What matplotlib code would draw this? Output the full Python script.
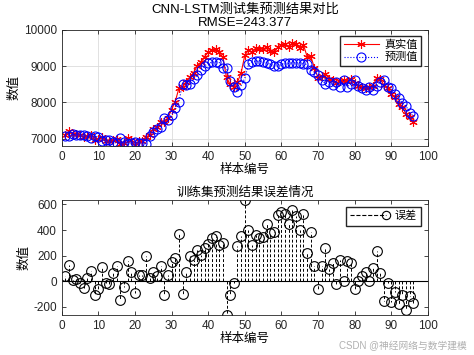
import matplotlib
matplotlib.use('Agg')
import matplotlib.pyplot as plt
from matplotlib.lines import Line2D
from matplotlib.legend_handler import HandlerBase
import numpy as np

plt.rcParams['font.family'] = ['Liberation Sans', 'Noto Sans CJK SC', 'DejaVu Sans']
plt.rcParams['axes.unicode_minus'] = False

# sample index 1..96
sample_idx = list(range(1, 97))

true_vals = [7105, 7204, 7130, 7128, 7097, 7045, 7086, 7114, 6972, 6980,
             7050, 6947, 6929, 6966, 6998, 6863, 6873, 7008, 6956, 6828,
             6930, 6932, 7057, 7089, 7256, 7315, 7451, 7452, 7572, 7800,
             8021, 8383, 8420, 8553, 8697, 8818, 8997, 9103, 9263, 9380,
             9442, 9480, 9380, 9250, 8688, 8495, 8417, 8559, 8818, 9300,
             9443, 9392, 9499, 9471, 9462, 9538, 9422, 9386, 9520, 9583,
             9617, 9518, 9644, 9603, 9494, 9586, 9264, 9273, 8950, 8682,
             8727, 8773, 8655, 8618, 8545, 8590, 8609, 8590, 8655, 8545,
             8455, 8427, 8409, 8427, 8455, 8682, 8636, 8473, 8409, 8227,
             8136, 7955, 7864, 7682, 7591, 7455]

pred_vals = [7060, 7080, 7120, 7110, 7110, 7100, 7060, 7030, 7080, 7040,
             6940, 6960, 6950, 6900, 6880, 7010, 6920, 6850, 6880, 6920,
             6880, 6880, 6860, 7060, 7180, 7270, 7330, 7560, 7520, 7650,
             7840, 8010, 8520, 8480, 8500, 8650, 8750, 8900, 9000, 9085,
             9100, 9125, 9099, 8950, 8950, 8600, 8430, 8287, 8466, 8664,
             9045, 9109, 9136, 9136, 9118, 9091, 9045, 9000, 9000, 9045,
             9091, 9073, 9091, 9091, 9091, 9064, 9045, 8885, 8834, 8743,
             8611, 8511, 8559, 8477, 8566, 8423, 8604, 8428, 8514, 8606,
             8452, 8383, 8339, 8422, 8353, 8442, 8572, 8630, 8425, 8392,
             8221, 8133, 7972, 7904, 7703, 7627]

err_vals = [45, 124, 10, 18, -13, -55, 26, 84, -108, -60,
            110, -13, -21, 66, 118, -147, -47, 158, 76, -92,
            50, 52, 197, 29, 76, 45, 121, -108, 52, 150,
            181, 373, -100, 73, 197, 168, 247, 203, 263, 295,
            342, 355, 281, 300, -262, -105, -13, 272, 352, 636,
            398, 283, 363, 335, 344, 447, 377, 386, 520, 538,
            526, 445, 553, 512, 403, 522, 219, 388, 116, -61,
            116, 262, 96, 141, -21, 167, 5, 162, 141, -61,
            3, 44, 70, 5, 102, 240, 64, -157, -16, -165,
            -85, -178, -108, -222, -112, -172]

rmse_text = 'RMSE=243.377'

ASTERISK = (6, 2, 0)


class StemLegend(HandlerBase):
    # dashed line with the circle at the right end, like MATLAB's stem legend
    def create_artists(self, legend, orig_handle, xdescent, ydescent,
                       width, height, fontsize, trans):
        y = height / 2 - ydescent
        ln = Line2D([-xdescent, -xdescent + width], [y, y], ls='--',
                    color='k', lw=0.8)
        mk = Line2D([-xdescent + width], [y], marker='o', ls='none',
                    mfc='none', mec='k', ms=6, mew=0.8)
        ln.set_transform(trans)
        mk.set_transform(trans)
        return [ln, mk]


def style_axes(ax):
    ax.tick_params(direction='in', top=True, right=True, labelsize=8.5,
                   length=3, width=0.6, colors='#262626')
    for s in ax.spines.values():
        s.set_linewidth(0.6)
        s.set_color('#262626')


fig = plt.figure(figsize=(4.74, 3.55), dpi=100)

ax1 = fig.add_axes([0.130, 0.589, 0.773, 0.327])
ax1.plot(sample_idx, true_vals, '-', marker=ASTERISK, color='r', lw=0.8,
         ms=6, mew=0.8, label='真实值')
ax1.plot(sample_idx, pred_vals, ':o', color='b', lw=0.8, ms=6.5, mew=0.8,
         mfc='none', label='预测值')
ax1.set_xlim(0, 100)
ax1.set_ylim(6800, 10000)
ax1.set_xticks(range(0, 101, 10))
ax1.set_yticks([7000, 8000, 9000, 10000])
ax1.grid(True, color='#dcdcdc', lw=0.6)
ax1.set_axisbelow(True)
style_axes(ax1)
ax1.set_xlabel('样本编号', fontsize=9, labelpad=1)
ax1.set_ylabel('数值', fontsize=9, labelpad=2)
ax1.set_title('CNN-LSTM测试集预测结果对比\n' + rmse_text, fontsize=9.5,
              pad=3, linespacing=1.1)
ax1.legend(loc='upper right', fontsize=8, handlelength=3.2, fancybox=False,
           edgecolor='#262626', framealpha=1, borderpad=0.3,
           labelspacing=0.2, handletextpad=0.5, borderaxespad=0.6)

ax2 = fig.add_axes([0.130, 0.113, 0.773, 0.324])
ml, sl, bl = ax2.stem(sample_idx, err_vals, linefmt='k--', markerfmt='ko',
                      basefmt='k-')
ml.set_markerfacecolor('none')
ml.set_markersize(7)
ml.set_markeredgewidth(0.8)
sl.set_linewidth(0.7)
sl.set_linestyle((0, (3, 2)))
bl.set_linewidth(0.8)
bl.set_xdata([0, 100])
ax2.set_xlim(0, 100)
ax2.set_ylim(min(err_vals), max(err_vals))
ax2.set_xticks(range(0, 101, 10))
ax2.set_yticks([-200, 0, 200, 400, 600])
style_axes(ax2)
ax2.set_xlabel('样本编号', fontsize=9, labelpad=1)
ax2.set_ylabel('数值', fontsize=9, labelpad=2)
ax2.set_title('训练集预测结果误差情况', fontsize=9, pad=3)
ax2.legend([ml], ['误差'], handler_map={type(ml): StemLegend()},
           loc='upper right', fontsize=8, handlelength=3.2, fancybox=False,
           edgecolor='#262626', framealpha=1, borderpad=0.4,
           handletextpad=0.8, borderaxespad=0.6)

fig.text(0.985, 0.01, 'CSDN @神经网络与数学建模', ha='right', va='bottom',
         fontsize=7, color='#b0b0b0')

fig.savefig('out.png', dpi=100)
